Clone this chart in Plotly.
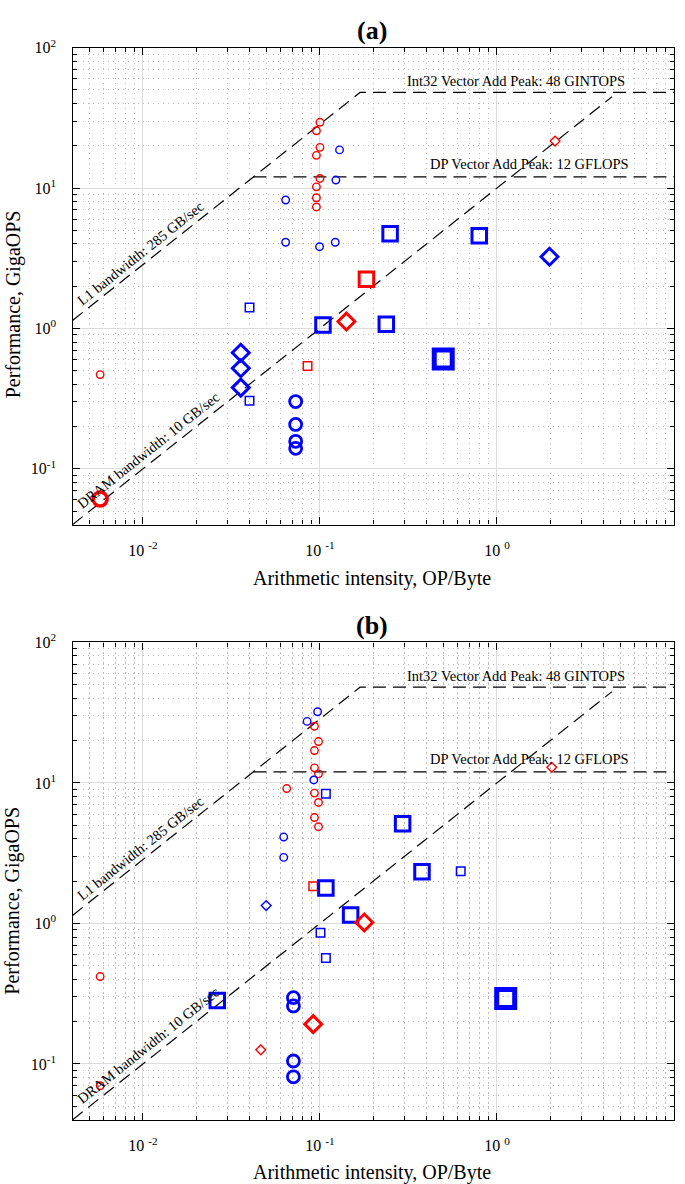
import numpy as np
import plotly.graph_objects as go

# roofline parameters
L1_BW = 285.0       # GB/sec
DRAM_BW = 10.0      # GB/sec
INT32_PEAK = 48.0   # GINTOPS
DP_PEAK = 12.0      # GFLOPS

X_MIN, X_MAX = 0.004, 10.0
Y_MIN, Y_MAX = 0.04, 100.0

X_TICKS = [0.01, 0.1, 1, 10]
X_TICKTEXT = ["10 <sup>-2</sup>", "10 <sup>-1</sup>", "10 <sup>0</sup>", "10 <sup>1</sup>"]
Y_TICKS = [0.1, 1, 10, 100]
Y_TICKTEXT = ["10<sup>-1</sup>", "10<sup>0</sup>", "10<sup>1</sup>", "10<sup>2</sup>"]

# marker kinds: ro/bo small circle, bO/rO large circle, bs/rs small square,
# bS/rS medium square, bQ large square, bD/rD large diamond, bd/rd small diamond

# panel (a)
a_x = [0.1, 0.0955, 0.1, 0.0955, 0.1, 0.0955, 0.0955, 0.0955, 0.00573,
       0.00573,
       0.129, 0.123, 0.064, 0.064, 0.0995, 0.122,
       0.0729, 0.0729, 0.0729, 0.0729,
       0.040, 0.040,
       0.0851,
       0.249, 0.794, 0.104, 0.237,
       0.183,
       0.497,
       0.0357, 0.0357, 0.0357, 1.98,
       0.141,
       2.13]
a_y = [29.4, 25.6, 19.5, 17.1, 11.7, 10.2, 8.53, 7.33, 0.469,
       0.0609,
       18.7, 11.4, 8.22, 4.11, 3.82, 4.11,
       0.3015, 0.207, 0.157, 0.140,
       1.41, 0.305,
       0.541,
       4.72, 4.57, 1.06, 1.07,
       2.24,
       0.605,
       0.671, 0.520, 0.379, 3.24,
       1.12,
       21.6]
a_kind = ["ro"] * 9 + ["rO"] + ["bo"] * 6 + ["bO"] * 4 + ["bs"] * 2 + ["rs"] + \
         ["bS"] * 4 + ["rS"] + ["bQ"] + ["bD"] * 4 + ["rD"] + ["rd"]

# panel (b)
b_x = [0.0931, 0.0981, 0.0931, 0.0931, 0.0981, 0.0649, 0.0931, 0.0981, 0.0931, 0.0981,
       0.00573, 0.00573,
       0.097, 0.0846, 0.0923, 0.0624, 0.0624,
       0.0708, 0.0708, 0.0708, 0.0708,
       0.108, 0.1007, 0.108, 0.624,
       0.0916,
       0.108, 0.149, 0.0263, 0.293, 0.377,
       1.12,
       0.178, 0.0916,
       0.0497,
       0.0463, 2.04]
b_y = [25.3, 19.7, 17.0, 12.8, 11.6, 9.12, 8.46, 7.26, 5.67, 4.88,
       0.419, 0.070,
       32.1, 27.4, 10.5, 4.12, 2.95,
       0.2965, 0.259, 0.105, 0.081,
       8.37, 0.860, 0.567, 2.35,
       1.84,
       1.79, 1.15, 0.2825, 5.12, 2.33,
       0.292,
       1.016, 0.192,
       1.34,
       0.126, 12.9]
b_kind = ["ro"] * 12 + ["bo"] * 5 + ["bO"] * 4 + ["bs"] * 4 + ["rs"] + \
         ["bS"] * 5 + ["bQ"] + ["rD"] * 2 + ["bd"] + ["rd"] * 2

RED = "#ff0000"
BLUE = "#0000ff"
STYLE = {
    "ro": ("circle-open", 7.5, 1.4, RED),
    "bo": ("circle-open", 7.5, 1.4, BLUE),
    "rO": ("circle-open", 14, 3.5, RED),
    "bO": ("circle-open", 12, 2.8, BLUE),
    "rs": ("square-open", 8.5, 1.5, RED),
    "bs": ("square-open", 8.5, 1.5, BLUE),
    "rS": ("square-open", 14.5, 3.0, RED),
    "bS": ("square-open", 14.5, 3.0, BLUE),
    "bQ": ("square-open", 18, 5.0, BLUE),
    "rD": ("diamond-open", 13, 3.0, RED),
    "bD": ("diamond-open", 13, 3.0, BLUE),
    "rd": ("diamond-open", 7.5, 1.4, RED),
    "bd": ("diamond-open", 7.5, 1.4, BLUE),
}

FONT = "Liberation Serif"
W, H = 685, 1184
dash = "13px,7px"


def px(p):
    return p / W


def py(p):
    return 1 - p / H


fig = go.Figure()

for xa, ya, xs, ys, kinds in [("x", "y", a_x, a_y, a_kind), ("x2", "y2", b_x, b_y, b_kind)]:
    # rooflines
    fig.add_trace(go.Scatter(
        x=[X_MIN, INT32_PEAK / L1_BW, X_MAX], y=[L1_BW * X_MIN, INT32_PEAK, INT32_PEAK],
        mode="lines", line=dict(color="black", width=1.2, dash=dash), xaxis=xa, yaxis=ya))
    fig.add_trace(go.Scatter(
        x=[DP_PEAK / L1_BW, X_MAX], y=[DP_PEAK, DP_PEAK],
        mode="lines", line=dict(color="black", width=1.2, dash=dash), xaxis=xa, yaxis=ya))
    fig.add_trace(go.Scatter(
        x=[X_MIN, 0.93 * INT32_PEAK / DRAM_BW], y=[DRAM_BW * X_MIN, 0.93 * INT32_PEAK],
        mode="lines", line=dict(color="black", width=1.2, dash=dash), xaxis=xa, yaxis=ya))
    # measured kernels
    for k, (sym, size, lw, col) in STYLE.items():
        mx = [x for x, kk in zip(xs, kinds) if kk == k]
        my = [y for y, kk in zip(ys, kinds) if kk == k]
        if not mx:
            continue
        fig.add_trace(go.Scatter(
            x=mx, y=my, mode="markers", xaxis=xa, yaxis=ya,
            marker=dict(symbol=sym, size=size, color=col, line=dict(width=lw, color=col))))


def minor_vals(lo, hi):
    vals = []
    for e in range(-4, 3):
        for m in range(2, 10):
            v = m * 10.0 ** e
            if lo <= v <= hi:
                vals.append(v)
    return vals


def axis(domain, rng, tickvals, ticktext, minor, anchor, standoff):
    return dict(
        type="log", domain=domain, range=[np.log10(rng[0]), np.log10(rng[1])],
        anchor=anchor, tickvals=tickvals, ticktext=ticktext,
        showline=True, linecolor="black", linewidth=1.4, mirror="allticks",
        ticks="inside", ticklen=7, tickwidth=1, tickcolor="black",
        showgrid=True, gridcolor="#dcdcdc", gridwidth=1, zeroline=False,
        ticklabelstandoff=standoff,
        tickfont=dict(family=FONT, size=16, color="black"),
        minor=dict(tickvals=minor, ticks="inside", ticklen=4, tickcolor="black",
                   showgrid=True, gridcolor="#bdbdbd", griddash="1.5px,3.5px", gridwidth=1),
    )


xdom = [px(72.5), px(674)]
ydom_a = [py(518.5), py(37)]
ydom_b = [py(1119.3), py(637.3)]
xminor = minor_vals(X_MIN, X_MAX)
yminor = minor_vals(Y_MIN, Y_MAX)

fig.update_layout(
    width=W, height=H, showlegend=False,
    margin=dict(l=0, r=0, t=0, b=0),
    paper_bgcolor="white", plot_bgcolor="white",
    font=dict(family=FONT, color="black"),
    xaxis=axis(xdom, (X_MIN, X_MAX), X_TICKS, X_TICKTEXT, xminor, "y", 11),
    yaxis=axis(ydom_a, (Y_MIN, Y_MAX), Y_TICKS, Y_TICKTEXT, yminor, "x", 12),
    xaxis2=axis(xdom, (X_MIN, X_MAX), X_TICKS, X_TICKTEXT, xminor, "y2", 11),
    yaxis2=axis(ydom_b, (Y_MIN, Y_MAX), Y_TICKS, Y_TICKTEXT, yminor, "x2", 12),
)

ann = []
for xa, ya, title, ty, xt_y, yt_y in [("x", "y", "(a)", 20, 573, 296), ("x2", "y2", "(b)", 620, 1172, 898)]:
    ann.append(dict(xref="paper", yref="paper", x=px(372), y=py(ty), text="<b>%s</b>" % title,
                    showarrow=False, font=dict(family=FONT, size=26), xanchor="center", yanchor="middle"))
    ann.append(dict(xref="paper", yref="paper", x=px(372), y=py(xt_y), text="Arithmetic intensity, OP/Byte",
                    showarrow=False, font=dict(family=FONT, size=20), xanchor="center", yanchor="middle"))
    ann.append(dict(xref="paper", yref="paper", x=px(13), y=py(yt_y), text="Performance, GigaOPS",
                    showarrow=False, textangle=-90, font=dict(family=FONT, size=20),
                    xanchor="center", yanchor="middle"))
    # roofline labels (log10 positions)
    ann.append(dict(xref=xa, yref=ya, x=0.108, y=1.763, text="Int32 Vector Add Peak: 48 GINTOPS",
                    showarrow=False, font=dict(family=FONT, size=14.5)))
    ann.append(dict(xref=xa, yref=ya, x=0.1846, y=1.170, text="DP Vector Add Peak: 12 GFLOPS",
                    showarrow=False, font=dict(family=FONT, size=14.5)))
    ann.append(dict(xref=xa, yref=ya, x=-2.013, y=0.537, text="L1 bandwidth: 285 GB/sec",
                    showarrow=False, textangle=-38.6, font=dict(family=FONT, size=14.5)))
    ann.append(dict(xref=xa, yref=ya, x=-1.968, y=-0.868, text="DRAM bandwidth: 10 GB/sec",
                    showarrow=False, textangle=-38.6, font=dict(family=FONT, size=14.5)))

fig.update_layout(annotations=ann)

# drop the default page margin so the figure sits at the window corner
fig.write_html("out.html", config={"displayModeBar": False},
               post_script="document.body.style.margin='0px';")
